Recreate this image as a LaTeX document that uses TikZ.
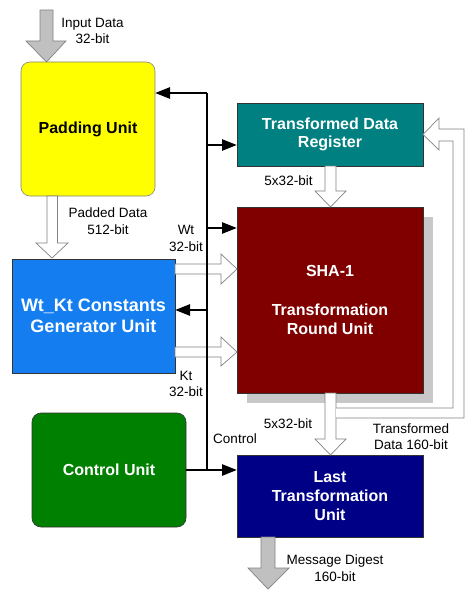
\documentclass[tikz,border=0pt]{standalone}
\usepackage{fontspec}
\setmainfont{Liberation Sans}
\usetikzlibrary{arrows.meta}
\definecolor{padyellow}{RGB}{255,255,0}
\definecolor{tdrteal}{RGB}{0,128,128}
\definecolor{shared}{RGB}{128,0,0}
\definecolor{wtblue}{RGB}{20,126,240}
\definecolor{ctrlgreen}{RGB}{0,128,0}
\definecolor{ltunavy}{RGB}{0,0,135}
\definecolor{shadowgray}{RGB}{200,200,200}
\definecolor{arrowgray}{RGB}{192,192,192}
\definecolor{edgegray}{RGB}{130,130,130}
\tikzset{
  unitbox/.style={draw=black!80, line width=0.6pt, inner sep=0pt, outer sep=0pt, align=center,
    font=\fontsize{16}{19}\selectfont\bfseries},
  lbl/.style={inner sep=0pt, align=center, font=\fontsize{13.5}{16.5}\selectfont},
  bus/.style={line width=2.6pt, -{Triangle[length=15pt,width=11pt]}},
  busline/.style={line width=2.6pt},
  openarrow/.style={draw=edgegray, fill=white, line width=0.7pt, line join=miter},
  grayarrow/.style={draw=edgegray, fill=arrowgray, line width=0.7pt, line join=miter}
}
\begin{document}
\begin{tikzpicture}[x=1pt,y=-1pt]
\useasboundingbox (0,0) rectangle (474,599);

% units
\node[unitbox, fill=padyellow, draw=edgegray, rounded corners=9pt, minimum width=134pt, minimum height=134pt] (pad) at (88,129) {Padding Unit};
\node[unitbox, fill=tdrteal, text=white, minimum width=186pt, minimum height=63pt] (tdr) at (330,134.5) {Transformed Data\\[-1pt]Register};
\fill[shadowgray] (247,217) rectangle (433,403);
\node[unitbox, fill=shared, text=white, minimum width=186pt, minimum height=186pt] (sha) at (330,300) {SHA-1\\[20pt]Transformation\\Round Unit};
\node[unitbox, fill=wtblue, text=white, minimum width=163pt, minimum height=114pt, font=\fontsize{18}{21}\selectfont\bfseries] (wk) at (93.5,316) {Wt\_Kt Constants\\Generator Unit};
\node[unitbox, fill=ctrlgreen, text=white, rounded corners=9pt, minimum width=154pt, minimum height=114pt] (ctrl) at (109,470) {Control Unit};
\node[unitbox, fill=ltunavy, text=white, minimum width=186pt, minimum height=82pt] (ltu) at (330,496) {Last\\Transformation\\Unit};

% block arrows
\draw[grayarrow] (40,10) -- (53,10) -- (53,41) -- (66,41) -- (46.5,62) -- (26,41) -- (40,41) -- cycle;
\draw[openarrow] (47,196) -- (57.5,196) -- (57.5,243) -- (68,243) -- (52,258) -- (36,243) -- (47,243) -- cycle;
\draw[openarrow] (325,166) -- (336,166) -- (336,191) -- (346,191) -- (330.5,207) -- (315,191) -- (325,191) -- cycle;
\draw[openarrow] (175,264) -- (221,264) -- (221,254) -- (237,269) -- (221,284) -- (221,274) -- (175,274) -- cycle;
\draw[openarrow] (175,347) -- (221,347) -- (221,337) -- (237,352) -- (221,366) -- (221,357) -- (175,357) -- cycle;
\draw[openarrow] (325,393) -- (336,393) -- (336,439) -- (346,439) -- (330.5,455) -- (315,439) -- (325,439) -- cycle;
\draw[openarrow] (336,408) -- (453,408) -- (453,141) -- (439,141) -- (439,150) -- (423,134.5) -- (439,118) -- (439,129) -- (464,129) -- (464,418) -- (336,418);
\draw[grayarrow] (261,537) -- (275,537) -- (275,568) -- (289,568) -- (268,589) -- (248,568) -- (261,568) -- cycle;

% control bus
\coordinate (bt) at (207,93);
\coordinate (bb) at (207,470);
\draw[busline] (ctrl.east |- bb) -- (bb) -- (bt);
\draw[bus] (bb) -- (bb -| ltu.west);
\draw[bus] (bt) -- (bt -| pad.east);
\draw[bus] (207,145) -- (tdr.west |- 0,145);
\draw[bus] (207,228) -- (sha.west |- 0,228);
\draw[bus] (207,310) -- (wk.east |- 0,310);

% labels
\node[lbl] (linput) at (92.5,31) {Input Data\\32-bit};
\node[lbl] (lpadded) at (108,221) {Padded Data\\512-bit};
\node[lbl] (lwt) at (186,238.5) {Wt\\32-bit};
\node[lbl] (lkt) at (186,384) {Kt\\32-bit};
\node[lbl] (l5a) at (288.5,181) {5x32-bit};
\node[lbl] (l5b) at (288,424) {5x32-bit};
\node[lbl] (lctrl) at (235,439) {Control};
\node[lbl] (ltrans) at (411,436.5) {Transformed\\Data 160-bit};
\node[lbl] (lmsg) at (335,568) {Message Digest\\160-bit};
\end{tikzpicture}
\end{document}
